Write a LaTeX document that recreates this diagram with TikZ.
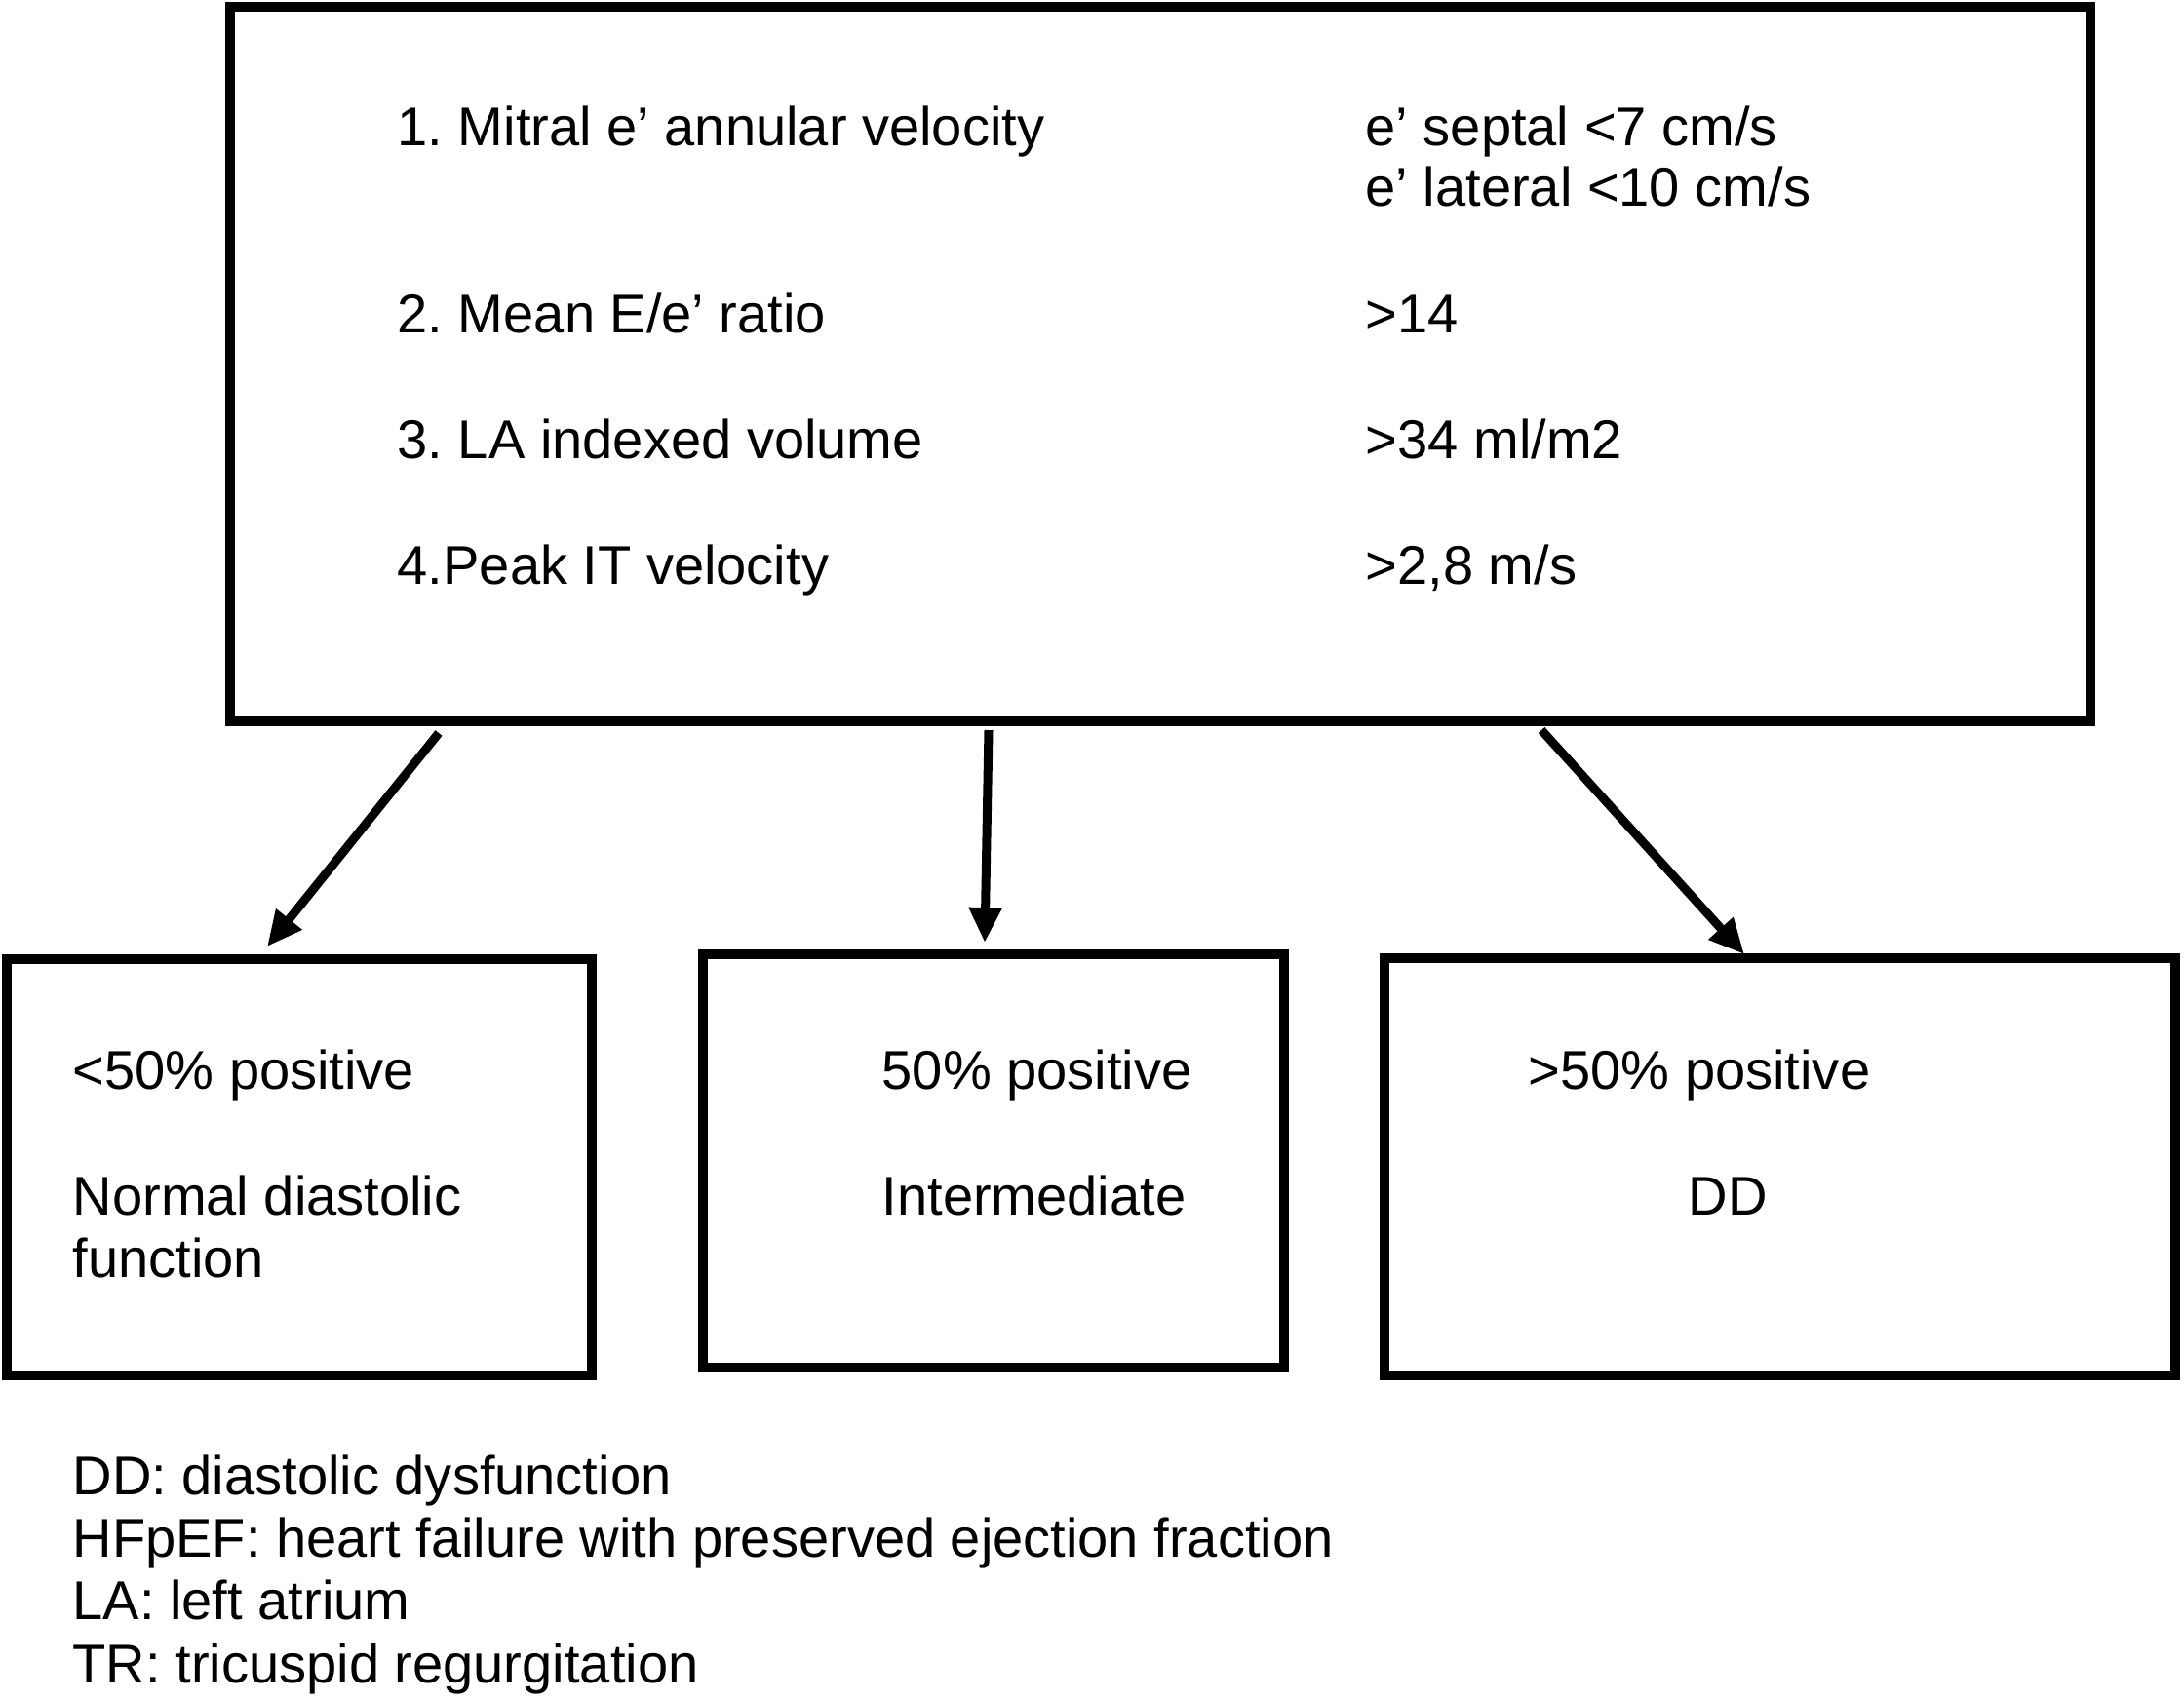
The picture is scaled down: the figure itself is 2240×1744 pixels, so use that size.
\documentclass[tikz,border=0pt]{standalone}
\usepackage{fontspec}
\setmainfont{Liberation Sans}
\usetikzlibrary{arrows.meta}
\frenchspacing
\begin{document}
\begin{tikzpicture}[x=0.01cm,y=-0.01cm,
  box/.style={draw,line width=0.1cm,rectangle,inner sep=0pt},
  txt/.style={anchor=base west,inner sep=0pt,font=\fontsize{15.94pt}{18.2pt}\selectfont},
  arr/.style={line width=0.09cm,-{Triangle[length=0.36cm,width=0.32cm]}}]
\fill[white] (0,0) rectangle (2240,1744);
\useasboundingbox (0,0) rectangle (2240,1744);
% boxes
\node[box,minimum width=19.06cm,minimum height=7.33cm] (top) at (1190,373.5) {};
\node[box,minimum width=6.00cm,minimum height=4.27cm] (left) at (307,1197.5) {};
\node[box,minimum width=5.96cm,minimum height=4.24cm] (mid) at (1019,1191) {};
\node[box,minimum width=8.11cm,minimum height=4.28cm] (right) at (1825.5,1197) {};
% top box texts
\node[txt] (c1) at (407,149) {1. Mitral e’ annular velocity};
\node[txt] (v1a) at (1400,149) {e’ septal <7 cm/s};
\node[txt] (v1b) at (1400,211) {e’ lateral <10 cm/s};
\node[txt] (c2) at (407,341) {2. Mean E/e’ ratio};
\node[txt] (v2) at (1400,341) {>14};
\node[txt] (c3) at (407,470) {3. LA indexed volume};
\node[txt] (v3) at (1400,470) {>34 ml/m2};
\node[txt] (c4) at (407,599) {4.Peak IT velocity};
\node[txt] (v4) at (1400,599) {>2,8 m/s};
% bottom box texts
\node[txt] (l1) at (74,1117) {<50\% positive};
\node[txt] (l2) at (74,1246) {Normal diastolic};
\node[txt] (l3) at (74,1310) {function};
\node[txt] (m1) at (904,1117) {50\% positive};
\node[txt] (m2) at (904,1246) {Intermediate};
\node[txt] (r1) at (1567,1117) {>50\% positive};
\node[txt] (r2) at (1731,1246) {DD};
% legend
\node[txt] (g1) at (74,1533) {DD: diastolic dysfunction};
\node[txt] (g2) at (74,1597) {HFpEF: heart failure with preserved ejection fraction};
\node[txt] (g3) at (74,1661) {LA: left atrium};
\node[txt] (g4) at (74,1726) {TR: tricuspid regurgitation};
% arrows
\coordinate (s1) at (450,752);
\coordinate (e1) at (274,971);
\coordinate (s2) at (1014,749);
\coordinate (e2) at (1010,967);
\coordinate (s3) at (1581,749);
\coordinate (e3) at (1789,979);
\draw[arr] (s1) -- (e1);
\draw[arr] (s2) -- (e2);
\draw[arr] (s3) -- (e3);
\end{tikzpicture}
\end{document}
